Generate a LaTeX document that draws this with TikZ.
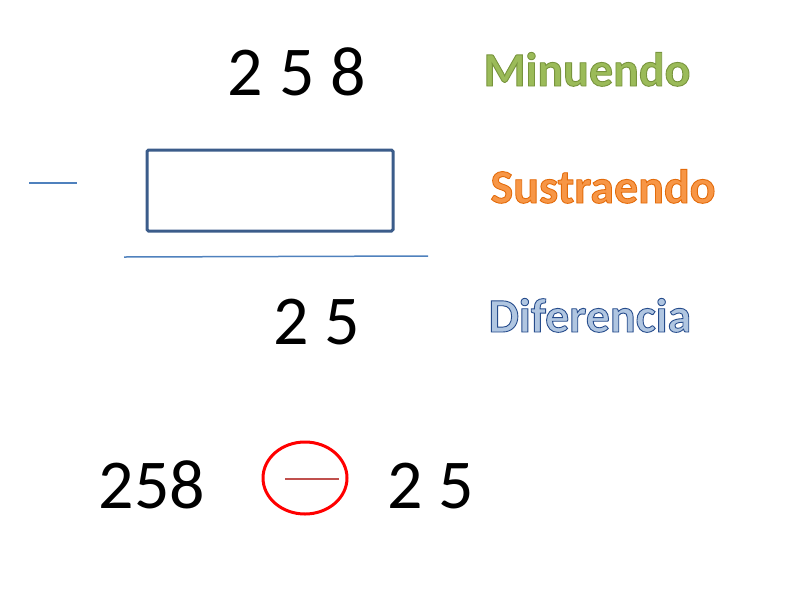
\documentclass[tikz,border=0pt]{standalone}
\usepackage{fontspec}
\usetikzlibrary{shapes.geometric}
\setmainfont{Carlito}
\definecolor{boxblue}{HTML}{3B5C8A}
\definecolor{lineblue}{HTML}{4F81BD}
\definecolor{mgreen}{HTML}{9BBB59}
\definecolor{sorange}{HTML}{F79646}
\definecolor{dblue}{HTML}{4F81BD}
\definecolor{minusred}{HTML}{C0504D}
% filled text with a coloured outline (#1 = stroke colour as PDF rgb triple)
\newcommand{\olText}[2]{\special{pdf:literal direct 2 Tr 0.9 w #1 RG}#2\special{pdf:literal direct 0 Tr}}
\tikzset{
  num/.style={font=\fontsize{70}{70}\selectfont, anchor=base, inner sep=0pt},
  lbl/.style={font=\fontsize{48}{48}\selectfont\bfseries, anchor=base, inner sep=0pt},
  bline/.style={draw=lineblue, line width=1.5pt},
}
\begin{document}
\begin{tikzpicture}[x=1pt,y=-1pt]
\useasboundingbox (0,0) rectangle (789,590);
% numbers
\node[num] (m) at (297,95) {2 5 8};
\node[num] (d) at (317,344) {2 5};
\node[num] (a) at (152,508) {258};
\node[num] (b) at (431,508) {2 5};
% labels
\node[lbl, text=mgreen] (lm) at (587,86) {\olText{0.47 0.58 0.24}{Minuendo}};
\node[lbl, text=sorange] (ls) at (603,203) {\olText{0.89 0.42 0.04}{Sustraendo}};
\node[lbl, text=dblue!45] (ld) at (590,332) {\olText{0.15 0.30 0.55}{Diferencia}};
% subtraend box
\node[draw=boxblue, line width=3pt, rounded corners=1.5pt, minimum width=246pt, minimum height=81pt, inner sep=0pt] (box) at (270,190.5) {};
% minus sign and result line
\coordinate (ms1) at (29,183);
\coordinate (ms2) at (77,183);
\draw[bline] (ms1) -- (ms2);
\coordinate (r1) at (124,257);
\coordinate (r2) at (428,256);
\draw[bline] (r1) -- (r2);
% circled minus
\node[draw=red, line width=3pt, ellipse, minimum width=84pt, minimum height=72pt, inner sep=0pt] (circ) at (305,478) {};
\coordinate (c1) at (285,479);
\coordinate (c2) at (339,479);
\draw[draw=minusred, line width=1.5pt] (c1) -- (c2);
\end{tikzpicture}
\end{document}
